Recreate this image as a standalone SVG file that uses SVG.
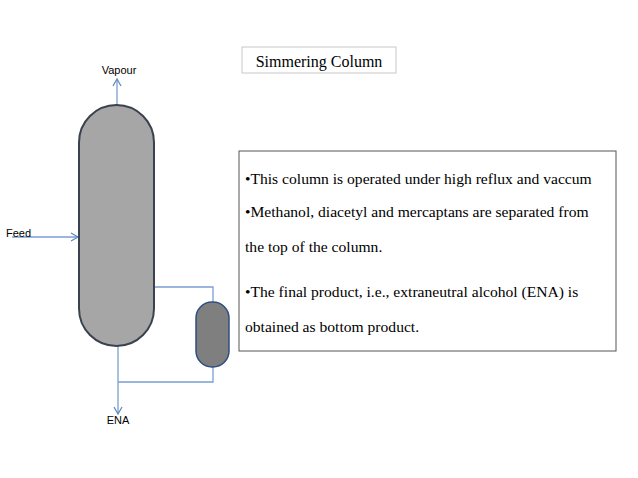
<svg xmlns="http://www.w3.org/2000/svg" width="638" height="478" viewBox="0 0 638 478">
<style>
.s{font-family:"Liberation Sans",Arial,sans-serif;font-size:11px;fill:#000}
.t{font-family:"Liberation Serif","Times New Roman",serif;font-size:15.6px;fill:#000}
.c{fill:none;stroke:#7aa0d0;stroke-width:1.3}
</style>
<defs><marker id="a" markerWidth="10" markerHeight="10" refX="8" refY="5" orient="auto" markerUnits="userSpaceOnUse"><path d="M1,1 L8,5 L1,9" fill="none" stroke="#5a86c0" stroke-width="1.2"/></marker></defs>
<rect width="638" height="478" fill="#fff"/>
<g id="connectors">
<path class="c" d="M117,105 V79" marker-end="url(#a)"/>
<path class="c" d="M12,237 H78" marker-end="url(#a)"/>
<path class="c" d="M154,287 H213 V302"/>
<path class="c" d="M213,367 V382 H118"/>
<path class="c" d="M118,346 V414" marker-end="url(#a)"/>
</g>
<g id="column"><rect x="79" y="105" width="75" height="241" rx="37.5" fill="#a6a6a6" stroke="#3a4250" stroke-width="2"/></g>
<g id="drum"><rect x="196" y="302" width="33" height="65" rx="16" fill="#7f7f7f" stroke="#2f4f80" stroke-width="1.5"/></g>
<g id="vapour"><text class="s" x="119" y="74" text-anchor="middle">Vapour</text></g>
<g id="feed"><text class="s" x="6" y="237">Feed</text></g>
<g id="ena"><text class="s" x="118" y="424" text-anchor="middle">ENA</text></g>
<g id="title"><rect x="242" y="47" width="154" height="26" fill="#fff" stroke="#c8c8c8"/><text class="t" x="319" y="67" text-anchor="middle" style="font-size:16px">Simmering Column</text></g>
<g id="notes"><rect x="239" y="151" width="377" height="200" fill="#fff" stroke="#555"/>
<text class="t" x="245" y="184">•This column is operated under high reflux and vaccum</text>
<text class="t" x="245" y="217">•Methanol, diacetyl and mercaptans are separated from</text>
<text class="t" x="245" y="252">the top of the column.</text>
<text class="t" x="245" y="297">•The final product, i.e., extraneutral alcohol (ENA) is</text>
<text class="t" x="245" y="332">obtained as bottom product.</text>
</g>
</svg>
